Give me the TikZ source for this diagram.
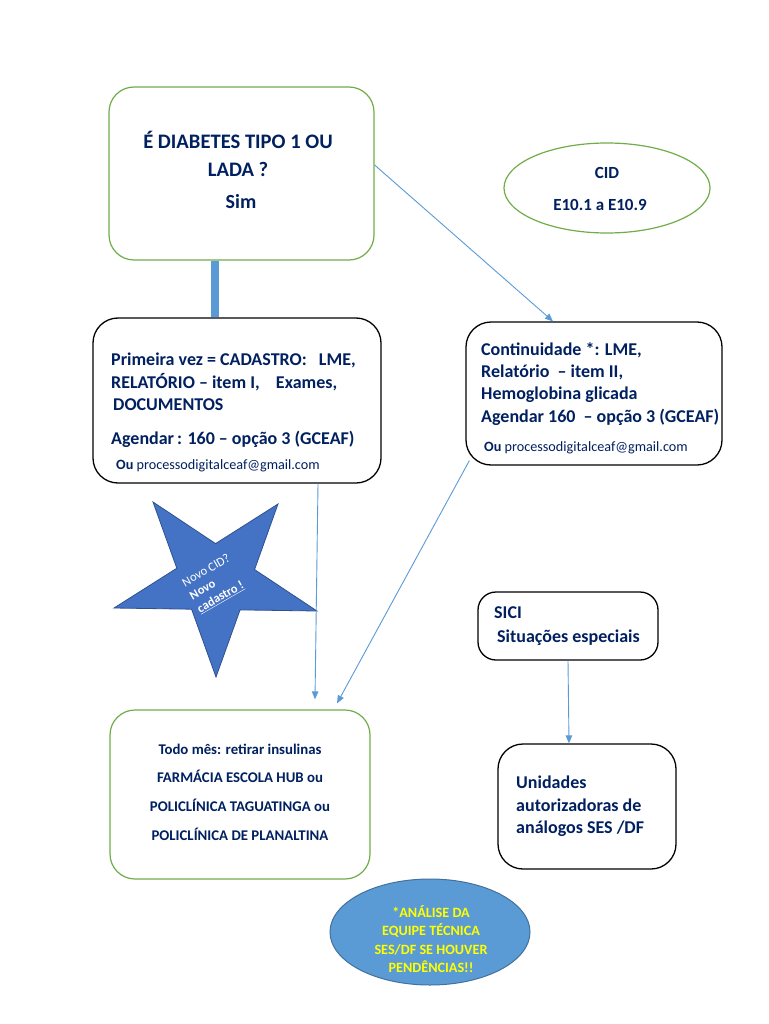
\documentclass[tikz,border=0pt]{standalone}
\usepackage{fontspec}
\setmainfont{Carlito}
\usetikzlibrary{arrows.meta,shapes.geometric,calc}
\definecolor{navy}{HTML}{002060}
\definecolor{lgreen}{HTML}{70AD47}
\definecolor{lblue}{HTML}{5B9BD5}
\definecolor{starfill}{HTML}{4472C4}
\definecolor{starline}{HTML}{2F528F}
\definecolor{ellline}{HTML}{41719C}
\definecolor{yel}{HTML}{FFFF00}
\newcommand\myfs[2]{\fontsize{#1}{#2}\selectfont}
\begin{document}
\begin{tikzpicture}[x=1pt,y=-1pt,
  greenbox/.style={draw=lgreen, line width=1.2pt, rounded corners=25pt, inner sep=0pt},
  blackbox/.style={draw=black, line width=1.3pt, rounded corners=25pt, inner sep=0pt},
  txt/.style={text=navy, font=\myfs{18}{20}\bfseries, inner sep=0pt, anchor=base west},
  mailtxt/.style={text=navy, font=\myfs{14.2}{16}\bfseries, inner sep=0pt, anchor=base west},
  link/.style={draw=lblue, line width=0.9pt, -{Triangle[length=8pt,width=6.5pt]}},
  bar/.style={draw=lblue, line width=8pt}
]
\useasboundingbox[fill=white] (0,0) rectangle (768,1024);

% boxes
\node[greenbox, minimum width=265, minimum height=173] (q) at (241.5,173.5) {};
\node[blackbox, minimum width=288, minimum height=165] (b2) at (237,400.5) {};
\node[blackbox, minimum width=256, minimum height=143] (b3) at (594,393.5) {};
\node[ellipse, draw=lgreen, line width=1.2pt, minimum width=206, minimum height=90] (cid) at (607,188) {};
\node[blackbox, rounded corners=18pt, minimum width=180, minimum height=68] (sici) at (568,626) {};
\node[blackbox, minimum width=178, minimum height=125] (un) at (587,806.5) {};
\node[greenbox, minimum width=260, minimum height=169] (bl) at (240,794.5) {};
\node[ellipse, draw=ellline, fill=lblue, line width=1pt, minimum width=200, minimum height=106] (an) at (430,932) {};

% star
\coordinate (sA) at (153,502);
\coordinate (sB) at (278,504);
\coordinate (sC) at (317,611);
\coordinate (sD) at (216,677);
\coordinate (sE) at (114,608);
\fill[starfill, draw=starline, line width=0.8pt] (sA)
  -- (intersection of sA--sC and sB--sE) -- (sB)
  -- (intersection of sB--sD and sC--sA) -- (sC)
  -- (intersection of sC--sE and sD--sB) -- (sD)
  -- (intersection of sD--sA and sE--sC) -- (sE)
  -- (intersection of sE--sB and sA--sD) -- cycle;
\node[rotate=30, align=left, text=white, inner sep=0pt, font=\myfs{12.5}{15}] (st) at (214,584)
  {Novo CID?\\\textbf{Novo}\\\textbf{\underline{cadastro !}}};

% texts box 1
\node[text=navy, align=center, inner sep=0pt, font=\myfs{20.6}{28}\bfseries] (qt) at (238,154) {É DIABETES TIPO 1 OU\\LADA ?};
\node[text=navy, inner sep=0pt, font=\myfs{20}{22}\bfseries] (qs) at (241,202) {Sim};

% box 2
\node[txt] (b2a) at (111,365) {Primeira vez = CADASTRO:\ \ \ LME,};
\node[txt] (b2b) at (111,388) {RELATÓRIO – item I,\ \ \ \ Exames,};
\node[txt] (b2c) at (113,410) {DOCUMENTOS};
\node[txt] (b2d) at (111,444) {Agendar\,: 160 – opção 3 (GCEAF)};
\node[mailtxt] (b2e) at (116,469) {Ou {\mdseries processodigitalceaf@gmail.com}};

% box 3
\node[txt] (b3a) at (481,355) {Continuidade *: LME,};
\node[txt] (b3b) at (481,377) {Relatório\ \ – item II,};
\node[txt] (b3c) at (481,399) {Hemoglobina glicada};
\node[txt] (b3d) at (481,422) {Agendar 160\ \ – opção 3 (GCEAF)};
\node[mailtxt] (b3e) at (484,451) {Ou {\mdseries processodigitalceaf@gmail.com}};

% CID
\node[text=navy, inner sep=0pt, font=\myfs{17}{20}\bfseries] (cid1) at (607,173) {CID};
\node[text=navy, inner sep=0pt, font=\myfs{17}{20}\bfseries] (cid2) at (600,205) {E10.1 a E10.9};

% SICI
\node[txt] (s1) at (494,618) {SICI};
\node[txt] (s2) at (497,642) {Situações especiais};

% Unidades
\node[txt] (u1) at (516,788) {Unidades};
\node[txt] (u2) at (516,811) {autorizadoras de};
\node[txt] (u3) at (516,833) {análogos SES /DF};

% bottom-left
\node[text=navy, align=center, inner sep=0pt, font=\myfs{14.8}{28.7}\bfseries] (blt) at (240,792)
  {Todo mês: retirar insulinas\\FARMÁCIA ESCOLA HUB ou\\POLICLÍNICA TAGUATINGA ou\\POLICLÍNICA DE PLANALTINA};

% analysis ellipse
\node[text=yel, align=center, inner sep=0pt, font=\myfs{14.2}{18.3}\bfseries] (ant) at (431,939)
  {*ANÁLISE DA\\EQUIPE TÉCNICA\\SES/DF SE HOUVER\\PENDÊNCIAS!!};

% connectors
\draw[bar] ([xshift=-26.5]q.south) -- ([xshift=-22]b2.north);
\draw[link] ([yshift=8.5]q.east) -- ([xshift=-41]b3.north);
\draw[link] ([xshift=81]b2.south) -- ([xshift=75,yshift=10]bl.north);
\draw[link] ([xshift=4,yshift=5]b3.south west) -- ([xshift=97,yshift=6]bl.north);
\draw[link] (sici.south) -- ([xshift=-18]un.north);
\end{tikzpicture}
\end{document}
